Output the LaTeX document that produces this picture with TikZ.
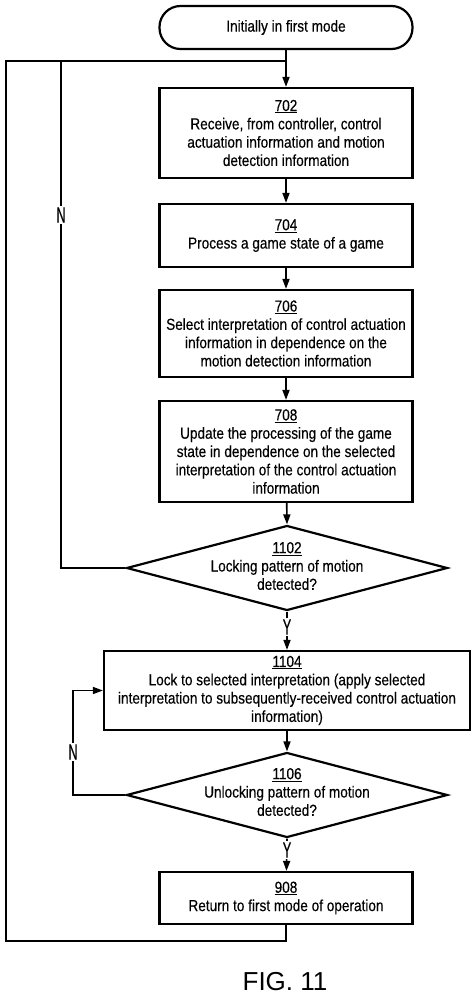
\documentclass[tikz,border=0pt]{standalone}
\usepackage{fontspec}
\setmainfont{Liberation Sans}
\newfontfamily\narrowfont[FakeStretch=0.85,FakeBold=0.3]{Liberation Sans}
\newfontfamily\labelfont[FakeStretch=0.58,FakeBold=0.3]{Liberation Sans}
\usetikzlibrary{arrows.meta,shapes.geometric}
\begin{document}
\begin{tikzpicture}[x=1pt,y=-1pt,
  every node/.style={font=\narrowfont\fontsize{16}{18.3}\selectfont},
  stepbox/.style={draw,line width=2.2pt,minimum width=253pt,inner sep=0pt,align=center},
  term/.style={draw,line width=2.2pt,rounded corners=21pt,minimum width=253pt,minimum height=43pt,inner sep=0pt},
  dia/.style={draw,diamond,line width=2.2pt,minimum width=321pt,minimum height=85pt,inner sep=0pt},
  conn/.style={line width=1.6pt},
  arr/.style={conn,-{Triangle[length=10pt,width=7pt]}},
  lbl/.style={fill=white,inner sep=1.5pt,font=\labelfont\fontsize{22}{24}\selectfont}]
\useasboundingbox (0,0) rectangle (474,995);
\node[term] (start) at (286,27.5) {Initially in first mode};
\node[stepbox,minimum height=90pt] (b702) at (286,133) {\underline{702}\\Receive, from controller, control\\actuation information and motion\\detection information};
\node[stepbox,minimum height=63pt] (b704) at (286,235.5) {\underline{704}\\Process a game state of a game};
\node[stepbox,minimum height=87pt] (b706) at (286,333.5) {\underline{706}\\Select interpretation of control actuation\\information in dependence on the\\motion detection information};
\node[stepbox,minimum height=101pt] (b708) at (286,451.5) {\underline{708}\\Update the processing of the game\\state in dependence on the selected\\interpretation of the control actuation\\information};
\node[dia] (d1) at (287,568) {};
\node[align=center] (t1) at (287,566) {\underline{1102}\\Locking pattern of motion\\detected?};
\node[stepbox,minimum width=366pt,minimum height=79pt] (b1104) at (287,690.5) {\underline{1104}\\Lock to selected interpretation (apply selected\\interpretation to subsequently-received control actuation\\information)};
\node[dia] (d2) at (287,795) {};
\node[align=center] (t2) at (287,792) {\underline{1106}\\Unlocking pattern of motion\\detected?};
\node[stepbox,minimum height=52pt] (b908) at (286,898) {\underline{908}\\Return to first mode of operation};
\node[font=\fontsize{26}{29}\selectfont] (fig) at (285,982) {FIG. 11};
% connectors
\coordinate (j0) at (286,61);
\coordinate (j1) at (61,61);
\coordinate (r1) at (286,941);
\coordinate (r2) at (6,941);
\coordinate (r3) at (6,61);
\coordinate (n2) at (73,795);
\coordinate (ya) at (287,627);
\coordinate (yb) at (287,850);
\draw[arr] (start) -- (b702);
\draw[arr] (b702) -- (b704);
\draw[arr] (b704) -- (b706);
\draw[arr] (b706) -- (b708);
\draw[arr] (b708) -- (d1.north);
\draw[arr] (d1.south) -- (b1104);
\node[lbl] (y1) at (ya) {Y};
\draw[arr] (b1104) -- (d2.north);
\draw[arr] (d2.south) -- (b908);
\node[lbl] (y2) at (yb) {Y};
\draw[conn] (b908.south) -- (r1) -- (r2) -- (r3) -- (j0);
\draw[conn] (d1.west) -| (j1);
\node[lbl] (nlab1) at (61,215) {N};
\draw[arr] (d2.west) -- (n2) |- (b1104.west);
\node[lbl] (nlab2) at (73,752) {N};
\end{tikzpicture}
\end{document}
